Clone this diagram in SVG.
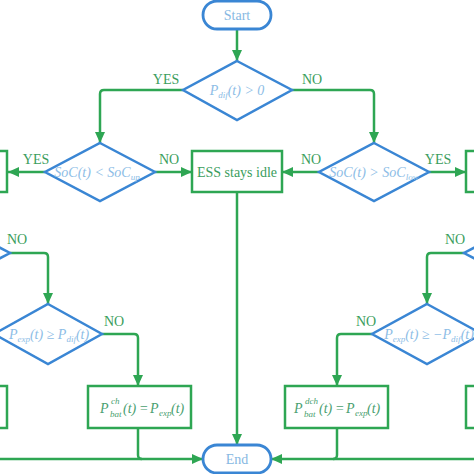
<svg xmlns="http://www.w3.org/2000/svg" width="474" height="474" viewBox="0 0 474 474">
<defs>
<marker id="ah" markerUnits="userSpaceOnUse" markerWidth="12" markerHeight="10" refX="11" refY="5" orient="auto">
<path d="M0,0 L11,5 L0,10 z" fill="#2ea653"/>
</marker>
<style>
.c{fill:none;stroke:#2ea653;stroke-width:2.5}
.dia{fill:#fff;stroke:#3a86d4;stroke-width:2.5}
.box{fill:#fff;stroke:#2ea653;stroke-width:2.5}
.term{fill:#fff;stroke:#3a86d4;stroke-width:2.8}
.lbl{font-family:"Liberation Serif",serif;font-size:14px;fill:#3a9d5c}
.tt{font-family:"Liberation Serif",serif;font-size:14px;fill:#86b8e2}
.bt{font-family:"Liberation Serif",serif;font-size:14px;fill:#3a9d5c}
.m{font-family:"Liberation Serif",serif;font-size:14px;font-style:italic;fill:#8dbde6}
.mb{font-family:"Liberation Serif",serif;font-size:14px;font-style:italic;fill:#4aa070}
.s{font-size:9px}
</style>
</defs>
<rect width="474" height="474" fill="#fff"/>
<g id="connectors">
<path class="c" d="M237,29 V61" marker-end="url(#ah)"/>
<path class="c" d="M183,90 H104 Q100,90 100,94 V143" marker-end="url(#ah)"/>
<path class="c" d="M292,90 H370 Q374,90 374,94 V143" marker-end="url(#ah)"/>
<path class="c" d="M45,172 H8" marker-end="url(#ah)"/>
<path class="c" d="M155,172 H192" marker-end="url(#ah)"/>
<path class="c" d="M319,172 H282" marker-end="url(#ah)"/>
<path class="c" d="M429,172 H466" marker-end="url(#ah)"/>
<path class="c" d="M237,192 V445" marker-end="url(#ah)"/>
<path class="c" d="M10,253 H44 Q48,253 48,257 V304" marker-end="url(#ah)"/>
<path class="c" d="M102,334 H134 Q138,334 138,338 V386" marker-end="url(#ah)"/>
<path class="c" d="M138,428 V455 Q138,459 142,459"/>
<path class="c" d="M0,459 H203" marker-end="url(#ah)"/>
<path class="c" d="M464,253 H431 Q427,253 427,257 V304" marker-end="url(#ah)"/>
<path class="c" d="M372,334 H341 Q337,334 337,338 V386" marker-end="url(#ah)"/>
<path class="c" d="M337,428 V455 Q337,459 333,459"/>
<path class="c" d="M474,459 H271" marker-end="url(#ah)"/>
</g>
<g id="labels">
<text class="lbl" x="166" y="84" text-anchor="middle">YES</text>
<text class="lbl" x="312" y="84" text-anchor="middle">NO</text>
<text class="lbl" x="36" y="164" text-anchor="middle">YES</text>
<text class="lbl" x="169" y="164" text-anchor="middle">NO</text>
<text class="lbl" x="311" y="164" text-anchor="middle">NO</text>
<text class="lbl" x="438" y="164" text-anchor="middle">YES</text>
<text class="lbl" x="17" y="244" text-anchor="middle">NO</text>
<text class="lbl" x="455" y="244" text-anchor="middle">NO</text>
<text class="lbl" x="114" y="326" text-anchor="middle">NO</text>
<text class="lbl" x="366" y="326" text-anchor="middle">NO</text>
</g>
<g id="start">
<rect class="term" x="203" y="1" width="68" height="28" rx="14"/>
<text class="tt" x="237" y="20" text-anchor="middle">Start</text>
</g>
<g id="d1">
<polygon class="dia" points="237,61 292,90 237,120 183,90"/>
<text class="m" x="237" y="95" text-anchor="middle">P<tspan class="s" dy="3">dif</tspan><tspan dy="-3">(t) &gt; 0</tspan></text>
</g>
<g id="d2">
<polygon class="dia" points="100,143 155,172 100,201 45,172"/>
<text class="m" x="97" y="177" text-anchor="middle" font-size="13.5">SoC(t) &lt; SoC<tspan class="s" dy="3">up</tspan></text>
</g>
<g id="d3">
<polygon class="dia" points="374,143 429,172 374,201 319,172"/>
<text class="m" x="374" y="177" text-anchor="middle" font-size="13.5">SoC(t) &gt; SoC<tspan class="s" dy="3">low</tspan></text>
</g>
<g id="box-left-top">
<rect class="box" x="-60" y="151" width="67" height="41"/>
</g>
<g id="ess">
<rect class="box" x="192" y="151" width="90" height="41"/>
<text class="bt" x="237" y="177" text-anchor="middle">ESS stays idle</text>
</g>
<g id="box-right-top">
<rect class="box" x="466" y="151" width="67" height="41"/>
</g>
<g id="d-left-partial">
<polygon class="dia" points="-45,224 10,253 -45,282 -100,253"/>
</g>
<g id="d-right-partial">
<polygon class="dia" points="519,224 574,253 519,282 464,253"/>
</g>
<g id="d4">
<polygon class="dia" points="48,304 102,334 48,364 -6,334"/>
<text class="m" x="49" y="339" text-anchor="middle">P<tspan class="s" dy="3">exp</tspan><tspan dy="-3">(t) ≥ P</tspan><tspan class="s" dy="3">dif</tspan><tspan dy="-3">(t)</tspan></text>
</g>
<g id="d5">
<polygon class="dia" points="427,304 482,334 427,364 372,334"/>
<text class="m" x="429" y="339" text-anchor="middle">P<tspan class="s" dy="3">exp</tspan><tspan dy="-3">(t) ≥ −P</tspan><tspan class="s" dy="3">dif</tspan><tspan dy="-3">(t)</tspan></text>
</g>
<g id="box-left-bottom">
<rect class="box" x="-60" y="386" width="67" height="42"/>
</g>
<g id="ch">
<rect class="box" x="88" y="386" width="103" height="42"/>
<text class="mb"><tspan x="100" y="413">P</tspan><tspan class="s" x="111" y="404">ch</tspan><tspan class="s" x="110" y="417">bat</tspan><tspan x="123" y="413">(t)</tspan><tspan x="139" y="413">=</tspan><tspan x="150" y="413">P</tspan><tspan class="s" x="159" y="416">exp</tspan><tspan x="171" y="413">(t)</tspan></text>
</g>
<g id="dch">
<rect class="box" x="285" y="386" width="103" height="42"/>
<text class="mb"><tspan x="294" y="413">P</tspan><tspan class="s" x="305" y="404">dch</tspan><tspan class="s" x="304" y="417">bat</tspan><tspan x="319" y="413">(t)</tspan><tspan x="335" y="413">=</tspan><tspan x="346" y="413">P</tspan><tspan class="s" x="355" y="416">exp</tspan><tspan x="367" y="413">(t)</tspan></text>
</g>
<g id="box-right-bottom">
<rect class="box" x="466" y="386" width="67" height="42"/>
</g>
<g id="end">
<rect class="term" x="203" y="445" width="68" height="28" rx="14"/>
<text class="tt" x="237" y="464" text-anchor="middle">End</text>
</g>
</svg>
